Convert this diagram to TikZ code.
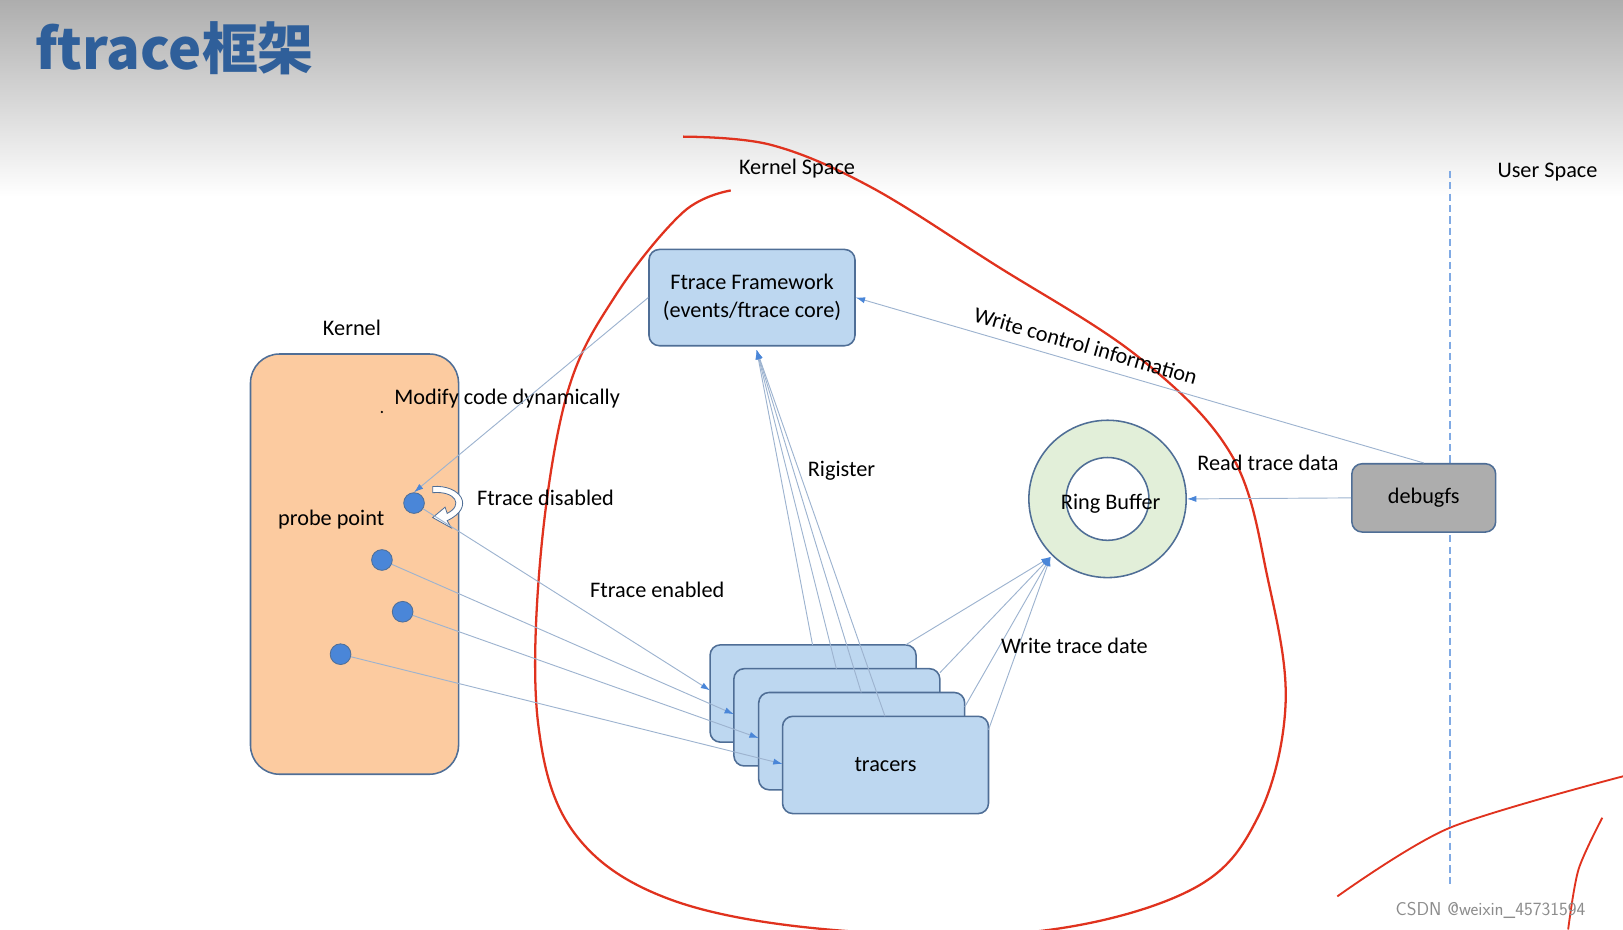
\documentclass[tikz,border=0pt]{standalone}
\usepackage{fontspec}
\setmainfont{Carlito}
\newfontfamily\cjk{Noto Sans CJK SC}
\usetikzlibrary{arrows.meta}
\definecolor{peach}{HTML}{FCCBA0}
\definecolor{lblue}{HTML}{BDD7F0}
\definecolor{edge}{HTML}{4F6E96}
\definecolor{conn}{HTML}{9DB3CF}
\definecolor{tip}{HTML}{4A86D8}
\definecolor{ringg}{HTML}{E2EFD9}
\definecolor{redpen}{HTML}{E0321E}
\definecolor{titleblue}{HTML}{2F5F9A}
\begin{document}
\begin{tikzpicture}[x=1pt,y=-1pt,
  lbl/.style={font=\fontsize{21.5}{24}\selectfont,inner sep=0pt},
  box/.style={draw=edge,line width=1.5pt,rounded corners=10pt},
  conn/.style={draw=conn,line width=0.9pt,-{Latex[length=9pt,width=6pt,color=tip]}},
  dot/.style={circle,fill=tip,draw=edge,line width=0.8pt,minimum size=20pt,inner sep=0pt}]
\useasboundingbox (0,0) rectangle (1568,898);
\shade[top color=black!32,bottom color=white] (0,0) rectangle (1568,190);
\node[font=\fontsize{54}{58}\selectfont\bfseries\cjk,text=titleblue,anchor=west,inner sep=0pt] (title) at (34,47) {ftrace框架};
% red loop
\draw[redpen,line width=2.2pt] plot[smooth,tension=0.6] coordinates {(706,184)(660,205)(595,285)(548,380)(522,540)(520,700)(555,805)(645,868)(800,898)(1000,900)(1150,860)(1215,790)(1242,680)(1225,560)(1190,440)(1100,345)(960,255)(840,180)(745,140)(660,132)};
\draw[redpen,line width=1.8pt] plot[smooth] coordinates {(1292,866)(1400,800)(1568,750)};
\draw[redpen,line width=1.8pt] plot[smooth] coordinates {(1548,790)(1525,840)(1515,898)};
% dashed line
\draw[draw=tip!70,line width=1.5pt,dash pattern=on 7pt off 4pt] (1401,165) coordinate (ds) -- (1401,855) coordinate (de);
\node[lbl] (us) at (1495,166) {User Space};
\node[lbl] (ks) at (770,163) {Kernel Space};
% kernel
\node[box,fill=peach,minimum width=201pt,minimum height=406pt,rounded corners=28pt] (kernel) at (342.5,545) {};
\node[lbl] (kl) at (340,317) {Kernel};
\node[lbl] (pp) at (320,502) {probe point};
\node[lbl] (mc) at (490,385) {Modify code dynamically};
\fill (369,398) circle (1.2pt);
\node[dot] (c1) at (400,486) {};
\node[dot] (c2) at (369,541) {};
\node[dot] (c3) at (389,591) {};
\node[dot] (c4) at (329,632) {};
% framework
\node[box,fill=lblue,minimum width=199pt,minimum height=93pt,align=center,lbl] (fw) at (726.5,287.5) {Ftrace Framework\\[3pt](events/ftrace core)};
% tracers
\node[box,fill=lblue,minimum width=199pt,minimum height=94pt] (t1) at (785.5,670) {};
\node[box,fill=lblue,minimum width=199pt,minimum height=94pt] (t2) at (808.5,693) {};
\node[box,fill=lblue,minimum width=199pt,minimum height=94pt] (t3) at (832.5,716) {};
\node[box,fill=lblue,minimum width=199pt,minimum height=94pt,lbl] (t4) at (855.5,739) {tracers};
% ring buffer
\node[circle,draw=edge,line width=1.5pt,fill=ringg,minimum size=152pt] (rb) at (1070,482) {};
\node[circle,draw=edge,line width=1.5pt,fill=white,minimum size=80pt] (rbi) at (1070,482) {};
\node[lbl] (rbl) at (1073,487) {Ring Buffer};
% debugfs
\node[box,fill=black!32,minimum width=139pt,minimum height=66pt,lbl] (dbg) at (1375.5,481) {debugfs};
% connectors
\draw[conn] (fw.west) -- (c1.north);
\draw[draw=edge,line width=0.8pt,fill=white] (418,470) .. controls (445,468) and (460,490) .. (432,503) -- (436,510) -- (418,500) -- (430,490) -- (432,496) .. controls (448,488) and (440,474) .. (418,476) -- cycle;
\node[lbl] (fd) at (527,481) {Ftrace disabled};
\node[lbl] (fe) at (635,570) {Ftrace enabled};
\draw[conn] (c1) -- (686,667);
\draw[conn] (c2) -- (709,690);
\draw[conn] (c3) -- (733,713);
\draw[conn] (c4) -- (756,738);
\coordinate (rg) at (731,338);
\draw[conn] (785,623) -- (rg);
\draw[conn] (808,646) -- (rg);
\draw[conn] (832,669) -- (rg);
\draw[conn] (855,692) -- (rg);
\node[lbl] (rgl) at (813,455) {Rigister};
\coordinate (wt) at (1015,538);
\draw[conn] (875,623) -- (wt);
\draw[conn] (908,650) -- (wt);
\draw[conn] (932,683) -- (wt);
\draw[conn] (955,705) -- (wt);
\node[lbl] (wtl) at (1038,624) {Write trace date};
\draw[conn] (dbg.west) -- (rb.east);
\node[lbl] (rtl) at (1225,447) {Read trace data};
\draw[conn] (dbg.north) -- (fw.east);
\node[lbl,rotate=-16] (wcl) at (1049,334) {Write control information};
\node[font=\fontsize{18}{20}\selectfont\sffamily,text=black!45,inner sep=0pt] (wm) at (1440,880) {CSDN @weixin\_45731594};
\end{tikzpicture}
\end{document}
